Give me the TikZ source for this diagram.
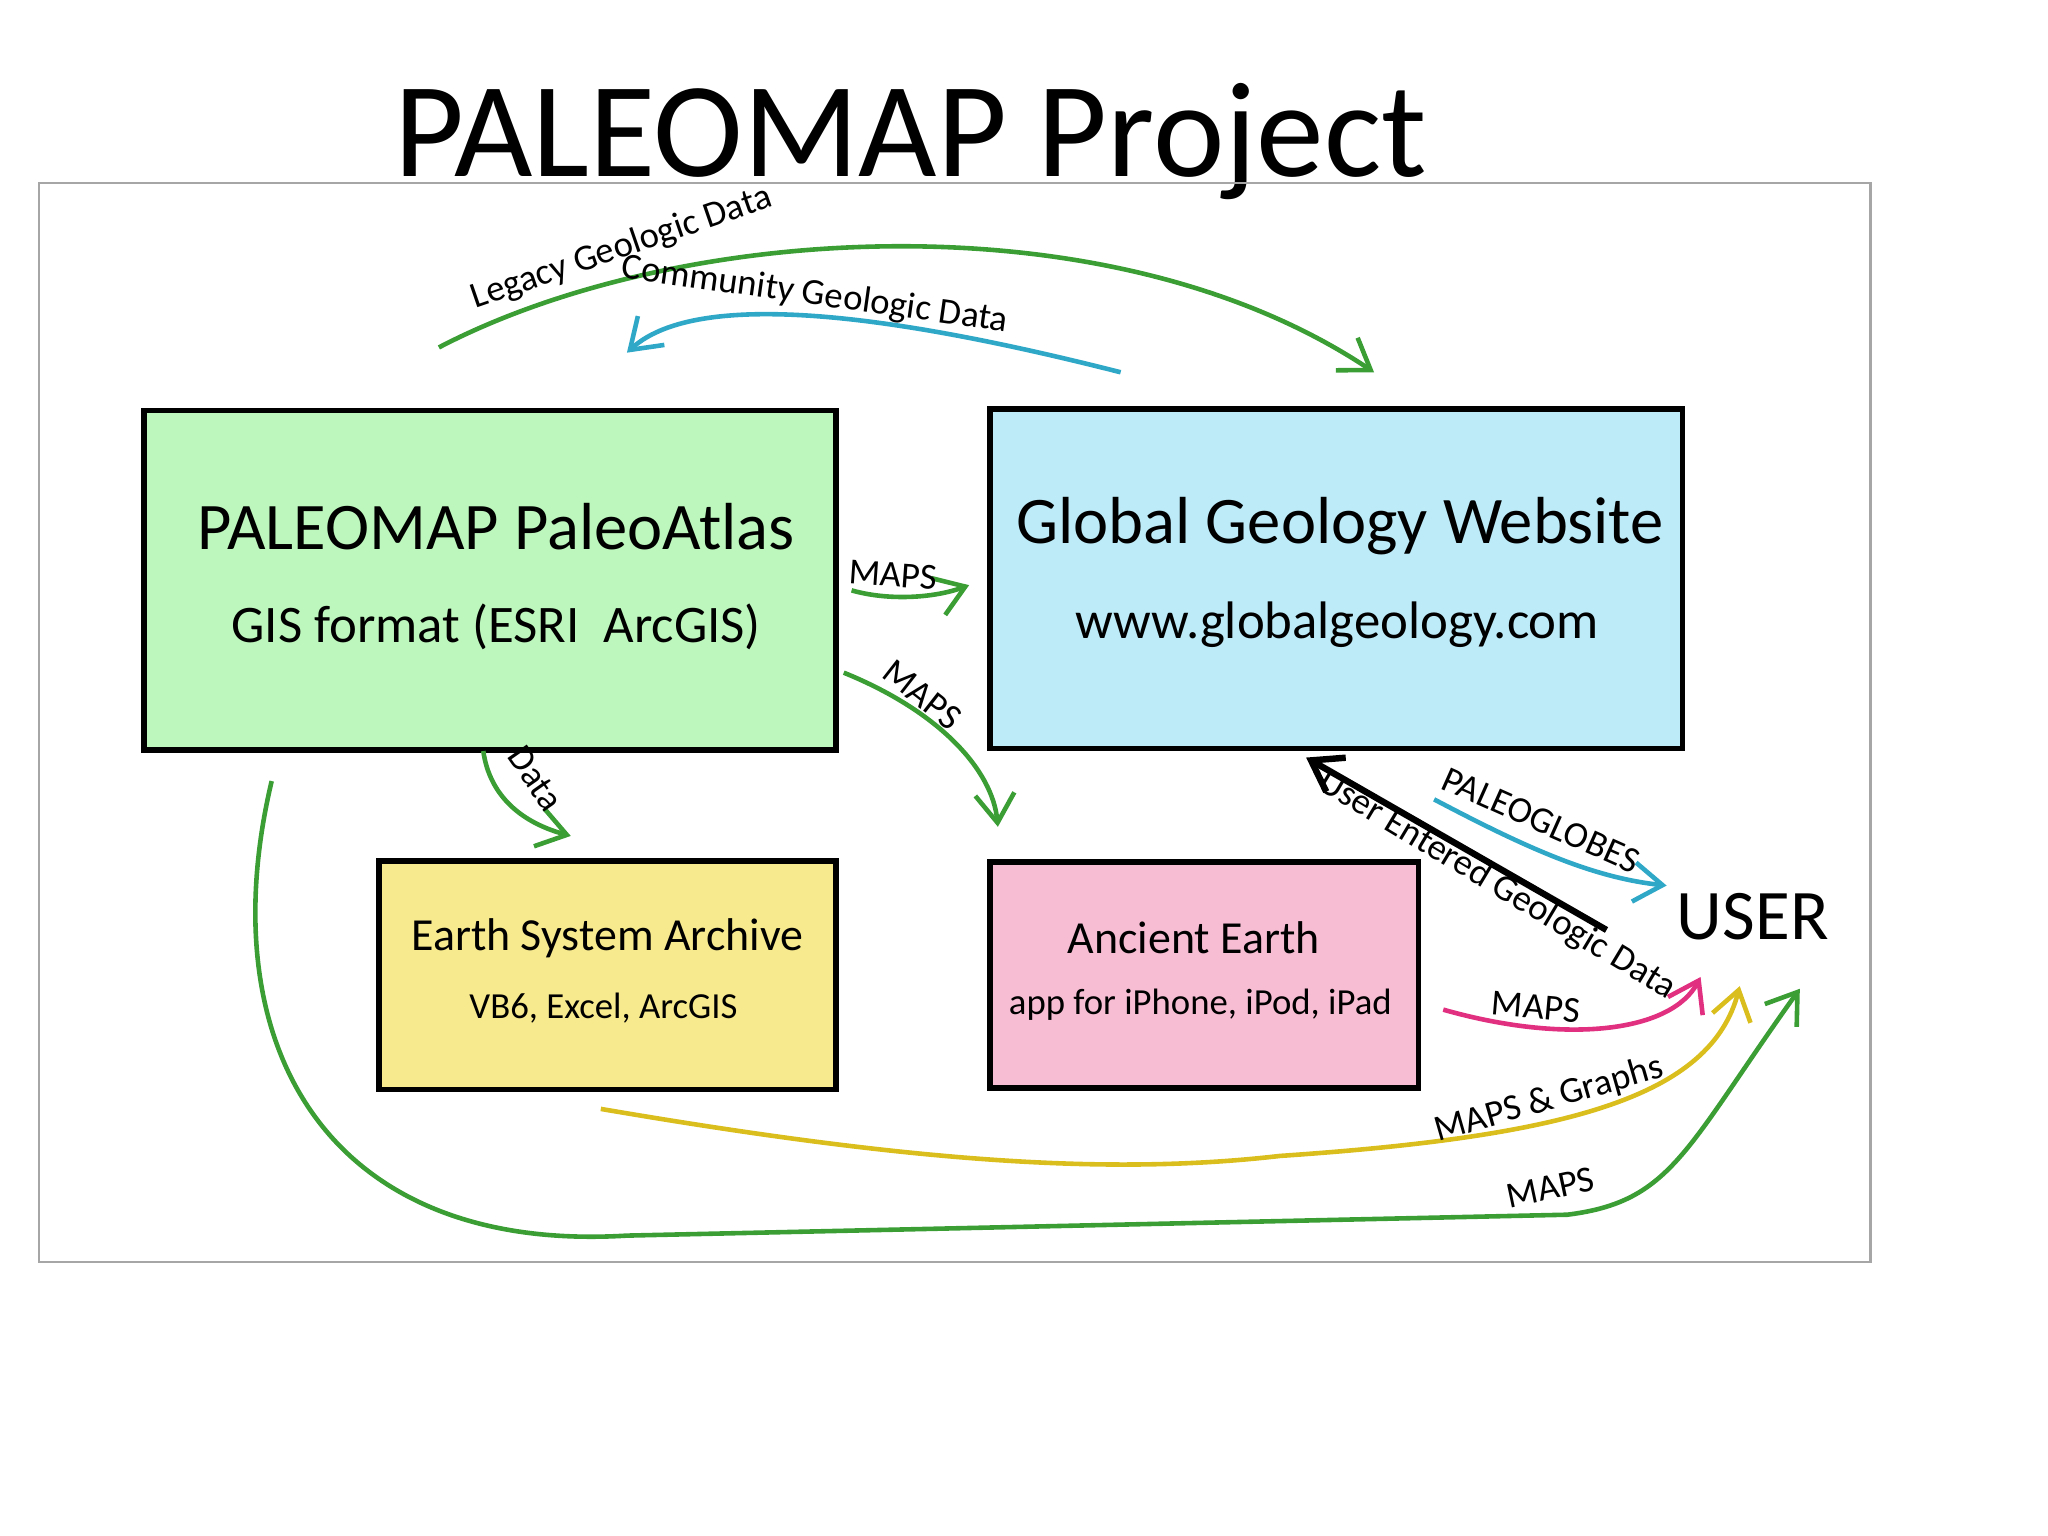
\documentclass[tikz,border=0pt]{standalone}
\usepackage{fontspec}
\setmainfont{Carlito}
\usetikzlibrary{arrows.meta}
\definecolor{atlasgreen}{HTML}{BDF7BD}
\definecolor{webblue}{HTML}{BDEBF8}
\definecolor{archyellow}{HTML}{F7E98E}
\definecolor{appink}{HTML}{F7BDD3}
\definecolor{flowgreen}{HTML}{3A9E35}
\definecolor{flowblue}{HTML}{2FA8C8}
\definecolor{flowpink}{HTML}{E0307F}
\definecolor{flowyellow}{HTML}{D9BE1E}
\tikzset{
  box/.style={rectangle, draw, line width=1.2pt, anchor=north west, inner sep=0pt},
  flow/.style={line width=1pt, -{Straight Barb[length=2.2mm,width=3mm]}},
  lbl/.style={font=\fontsize{8}{9}\selectfont, inner sep=1pt},
}
\begin{document}
\begin{tikzpicture}[x=0.1mm, y=-0.1mm]
  \useasboundingbox (0,0) rectangle (1568,1176);
  % Title and frame
  \node (title) at (697,108) {\fontsize{29.5}{30}\selectfont PALEOMAP Project};
  \draw[gray!70, line width=0.5pt] (30,140) rectangle (1432,966);
  % Boxes
  \node [box, fill=atlasgreen, minimum width=53mm, minimum height=26mm] (atlas) at (108,312) {};
  \node [box, fill=webblue, minimum width=53mm, minimum height=26mm] (web) at (756,311) {};
  \node [box, fill=archyellow, minimum width=35mm, minimum height=17.5mm] (arch) at (288,657) {};
  \node [box, fill=appink, minimum width=32.8mm, minimum height=17.3mm] (app) at (756,658) {};
  \node at (380,403) {\fontsize{14.5}{15}\selectfont PALEOMAP PaleoAtlas};
  \node at (380,480) {\fontsize{11.5}{12}\selectfont GIS format (ESRI\ \ ArcGIS)};
  \node at (1026,403) {\fontsize{14.5}{15}\selectfont Global Geology Website};
  \node at (1024,478) {\fontsize{11.5}{12}\selectfont www.globalgeology.com};
  \node at (465,718) {\fontsize{10}{11}\selectfont Earth System Archive};
  \node at (462,772) {\fontsize{8}{9}\selectfont VB6, Excel, ArcGIS};
  \node at (914,718) {\fontsize{10}{11}\selectfont Ancient Earth};
  \node at (919,769) {\fontsize{8}{9}\selectfont app for iPhone, iPod, iPad};
  \node (user) at (1342,702) {\fontsize{15.5}{16}\selectfont USER};
  % Free ends
  \coordinate (legacy) at (336,266);
  \coordinate (community) at (480,270);
  \coordinate (userin) at (1230,712);
  \coordinate (arch-out) at (460,849);
  \coordinate (atlas-out) at (208,598);
  % Flows
  \draw[flow, flowgreen] (legacy) .. controls (520,170) and (850,150) .. (1052,285);
  \node[lbl, rotate=19] at (476,190) {Legacy Geologic Data};
  \draw[flow, flowblue] (858,285) .. controls (720,250) and (540,215) .. (community);
  \node[lbl, rotate=-8] at (624,226) {Community Geologic Data};
  \draw[flow, flowgreen] (652,452) .. controls (680,460) and (715,458) .. (742,448);
  \node[lbl, rotate=-4] at (684,440) {MAPS};
  \draw[flow, flowgreen] (646,515) .. controls (720,545) and (760,590) .. (764,633);
  \node[lbl, rotate=-38] at (706,532) {MAPS};
  \draw[flow, flowgreen] (370,575) .. controls (375,610) and (400,630) .. (437,640);
  \node[lbl, rotate=-55] at (410,596) {Data};
  \draw[flow, black, line width=1.4pt] (userin) -- (1000,580);
  \node[lbl, rotate=-31] at (1146,678) {User Entered Geologic Data};
  \draw[flow, flowblue] (1098,612) .. controls (1170,650) and (1220,672) .. (1276,678);
  \node[lbl, rotate=-24] at (1180,628) {PALEOGLOBES};
  \draw[flow, flowpink] (1105,773) .. controls (1200,800) and (1280,790) .. (1302,748);
  \node[lbl, rotate=-5] at (1176,771) {MAPS};
  \draw[flow, flowyellow] (arch-out) .. controls (700,890) and (850,900) .. (980,885)
    .. controls (1200,870) and (1310,840) .. (1332,755);
  \node[lbl, rotate=16] at (1186,842) {MAPS \& Graphs};
  \draw[flow, flowgreen] (atlas-out) .. controls (160,800) and (250,960) .. (480,946)
    -- (1200,930) .. controls (1280,920) and (1290,880) .. (1378,757);
  \node[lbl, rotate=12] (mapslow) at (1187,909) {MAPS};
\end{tikzpicture}
\end{document}
